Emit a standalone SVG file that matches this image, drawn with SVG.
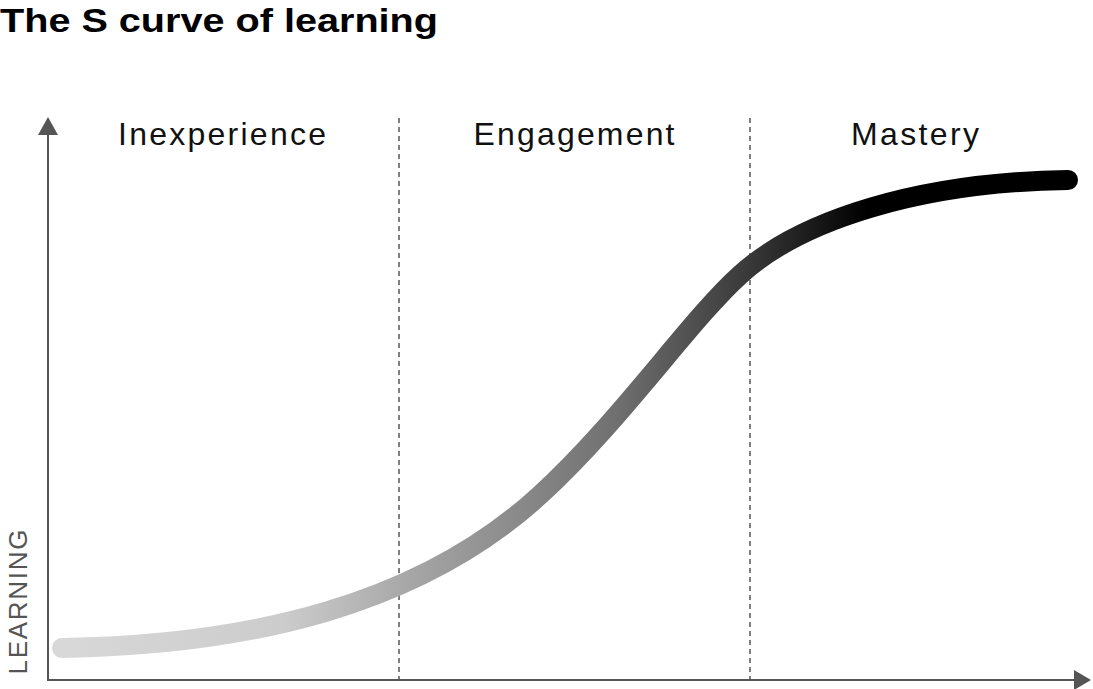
<svg xmlns="http://www.w3.org/2000/svg" width="1093" height="689" viewBox="0 0 1093 689">
<style>
.title{font-family:"Liberation Sans",Arial,sans-serif;font-weight:bold;font-size:34px;fill:#000}
.phase{font-family:"Liberation Sans",Arial,sans-serif;font-size:32px;fill:#111;text-anchor:middle}
.axislabel{font-family:"Liberation Sans",Arial,sans-serif;font-size:26px;fill:#555;text-anchor:middle}
.axis{stroke:#555;stroke-width:2;fill:none}
.divider{stroke:#555;stroke-width:1.5;stroke-dasharray:5,4;fill:none}
</style>
<defs>
<linearGradient id="grad" gradientUnits="userSpaceOnUse" x1="62" y1="0" x2="1068" y2="0">
<stop offset="0" stop-color="#d8d8d8"/>
<stop offset="0.22" stop-color="#cccccc"/>
<stop offset="0.34" stop-color="#a8a8a8"/>
<stop offset="0.55" stop-color="#707070"/>
<stop offset="0.68" stop-color="#3a3a3a"/>
<stop offset="0.8" stop-color="#000"/>
<stop offset="1" stop-color="#000"/>
</linearGradient>
</defs>
<text class="title" x="0" y="32" textLength="438" lengthAdjust="spacingAndGlyphs">The S curve of learning</text>
<g id="connectors">
<path class="axis" d="M48,681 L48,135"/>
<path d="M48,117 L58,135 L38,135 z" fill="#555"/>
<path class="axis" d="M47,680 L1075,680"/>
<path d="M1091,680 L1074,670 L1074,690 z" fill="#555"/>
<path class="divider" d="M399,118 L399,680"/>
<path class="divider" d="M750,118 L750,680"/>
</g>
<g id="curve">
<path d="M62,648 C250,645 420,605 540,495 C620,422 690,320 740,275 C800,220 920,182 1068,180" fill="none" stroke="url(#grad)" stroke-width="20" stroke-linecap="round"/>
</g>
<g id="inexperience"><text class="phase" x="222" y="145" textLength="208">Inexperience</text></g>
<g id="engagement"><text class="phase" x="574" y="145" textLength="201">Engagement</text></g>
<g id="mastery"><text class="phase" x="915" y="145" textLength="128">Mastery</text></g>
<g id="learning"><text class="axislabel" transform="translate(27,602) rotate(-90)" textLength="145">LEARNING</text></g>
</svg>
